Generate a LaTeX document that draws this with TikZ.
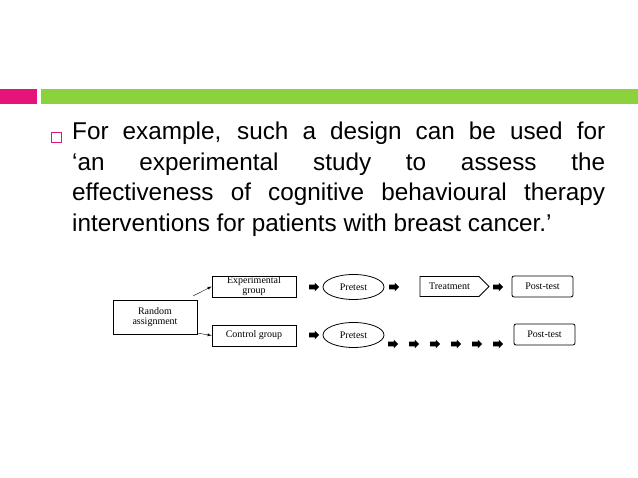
\documentclass[tikz,border=0pt]{standalone}
\usepackage{fontspec}
\setmainfont{Liberation Sans}
\newfontfamily\boxfont{Liberation Serif}
\usetikzlibrary{positioning,shapes.geometric,shapes.arrows,shapes.symbols}
\definecolor{barpink}{RGB}{230,20,120}
\definecolor{bargreen}{RGB}{140,210,60}
\tikzset{
    box/.style={draw,thick,minimum width=84pt,minimum height=21pt,inner sep=1pt,font=\boxfont\fontsize{10}{10}\selectfont,align=center},
    oval/.style={draw,thick,ellipse,minimum width=61pt,minimum height=25pt,inner sep=0pt,font=\boxfont\fontsize{10}{10}\selectfont},
    fat/.style={single arrow,fill=black,minimum height=10pt,inner sep=2.2pt,single arrow head extend=2pt}
}
\begin{document}
\begin{tikzpicture}[x=1pt,y=1pt]
    \useasboundingbox (0,0) rectangle (638,478);

    % Header bars
    \fill [barpink] (0,374) rectangle (37,389);
    \fill [bargreen] (41,374) rectangle (638,389);

    % Bullet text
    \draw [barpink,thick] (51,336) rectangle (61,346);
    \node (text) [anchor=north west,inner sep=0pt] at (72,356)
        {\parbox{533pt}{\fontsize{24.3}{30.5}\selectfont
        For example, such a design can be used for\linebreak
        ‘an experimental study to assess the\linebreak
        effectiveness of cognitive behavioural therapy\linebreak
        interventions for patients with breast cancer.’}};

    % Design boxes
    \node (random) [box,minimum width=84pt,minimum height=34pt] at (155,161) {Random\\assignment};
    \node (exp) [box] at (254,191.5) {Experimental\\group};
    \node (ctrl) [box] at (254,142.5) {Control group};
    \node (pre1) [oval] at (353.5,191) {Pretest};
    \node (pre2) [oval] at (353.5,143) {Pretest};
    \node (treat) [box,signal,signal to=east,minimum width=69pt,minimum height=20pt] at (449.5,191.5) {Treatment};
    \node (post1) [box,rounded corners=2pt,minimum width=61pt] at (542.5,191.5) {Post-test};
    \node (post2) [box,rounded corners=2pt,minimum width=61pt] at (544.5,143.5) {Post-test};

    % Links from assignment
    \coordinate (r1) at (193,182);
    \coordinate (r2) at (197,145);
    \draw [-latex] (r1) -- (exp.west);
    \draw [-latex] (r2) -- (ctrl.west);

    % Fat arrows
    \node (f1) [fat] at (313,191) {};
    \node (f2) [fat] at (393,191) {};
    \node (f3) [fat] at (497,191) {};
    \node (f4) [fat] at (313,143) {};
    \foreach \x [count=\i] in {392,413,434,455,476,497}
        \node (g\i) [fat] at (\x,134) {};
\end{tikzpicture}
\end{document}
